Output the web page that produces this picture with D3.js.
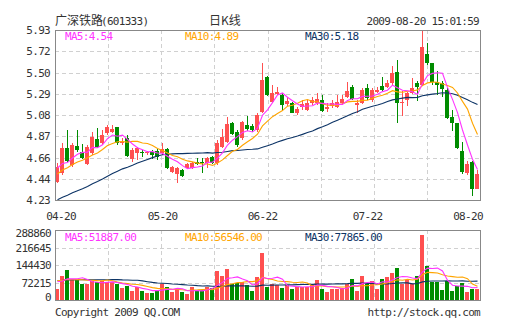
<!DOCTYPE html>
<html><head><meta charset="utf-8">
<script src="https://cdn.jsdelivr.net/npm/d3@7"></script>
<style>
body{margin:0;background:#fff}
text{font-family:"DejaVu Sans Mono",monospace;font-size:11px;letter-spacing:-0.7px}
.cjk{font-family:"Noto Sans CJK SC",sans-serif;font-size:12px;letter-spacing:0}
</style>
</head><body><svg id="c" width="505" height="330"></svg>
<script>
const stockName = "广深铁路";
const stockCode = "(601333)";
const periodLabel = "日K线";
const stampLabel = "2009-08-20 15:01:59";
const copyrightLabel = "Copyright 2009 QQ.COM";
const urlLabel = "http://stock.qq.com";
const priceTickLabels = ["4.23","4.44","4.66","4.87","5.08","5.29","5.50","5.72","5.93"];
const priceMin = 4.23, priceMax = 5.93;
const volTickLabels = ["0","72215","144430","216645","288860"];
const volMax = 288860;
const dateLabels = ["04-20","05-20","06-22","07-22","08-20"];
const dateLabelIndex = [0, 21, 41, 62, 84];

const open  = [4.41,4.50,4.75,4.58,4.77,4.71,4.59,4.70,4.84,4.80,4.90,4.91,4.96,4.80,4.85,4.64,4.70,4.71,4.70,4.71,4.72,4.70,4.74,4.51,4.49,4.53,4.55,4.55,4.61,4.61,4.60,4.66,4.60,4.76,4.81,5.00,4.91,4.85,4.98,4.97,4.93,5.11,5.46,5.21,5.29,5.28,5.19,5.20,5.10,5.16,5.13,5.20,5.20,5.23,5.14,5.17,5.16,5.20,5.26,5.36,5.18,5.20,5.35,5.23,5.31,5.37,5.36,5.40,5.51,5.20,5.23,5.30,5.40,5.38,5.69,5.60,5.41,5.40,5.33,5.06,5.00,4.72,4.50,4.61,4.34];
const close = [4.56,4.75,4.62,4.78,4.73,4.65,4.76,4.86,4.76,4.88,4.96,4.94,4.80,4.81,4.67,4.73,4.75,4.70,4.71,4.68,4.66,4.74,4.55,4.56,4.55,4.47,4.59,4.60,4.59,4.60,4.65,4.60,4.80,4.86,4.99,4.89,4.78,5.01,4.94,4.93,5.08,5.43,5.28,5.30,5.31,5.18,5.22,5.10,5.14,5.19,5.20,5.23,5.24,5.12,5.16,5.20,5.21,5.24,5.32,5.24,5.20,5.33,5.25,5.33,5.33,5.33,5.40,5.50,5.20,5.21,5.30,5.35,5.36,5.76,5.60,5.41,5.38,5.34,5.05,5.00,4.75,4.51,4.59,4.34,4.49];
const high  = [4.60,4.80,4.93,4.80,4.93,4.79,4.78,4.91,4.95,4.93,4.98,4.98,4.96,4.85,4.88,4.75,4.76,4.73,4.72,4.73,4.74,4.80,4.75,4.57,4.56,4.54,4.60,4.61,4.65,4.65,4.66,4.67,4.83,4.94,5.06,5.01,4.93,5.02,5.07,4.99,5.10,5.60,5.47,5.38,5.36,5.30,5.26,5.21,5.16,5.23,5.23,5.26,5.30,5.28,5.20,5.23,5.28,5.28,5.41,5.38,5.23,5.35,5.39,5.35,5.36,5.46,5.43,5.57,5.63,5.32,5.31,5.45,5.42,5.93,5.80,5.60,5.52,5.42,5.35,5.13,5.00,4.81,4.62,4.62,4.53];
const low   = [4.40,4.48,4.61,4.56,4.71,4.64,4.58,4.68,4.75,4.78,4.88,4.90,4.78,4.78,4.66,4.61,4.63,4.66,4.68,4.64,4.63,4.68,4.54,4.50,4.40,4.46,4.54,4.54,4.58,4.50,4.55,4.59,4.58,4.75,4.80,4.88,4.76,4.83,4.92,4.91,4.91,5.10,5.27,5.20,5.28,5.13,5.17,5.10,5.08,5.13,5.12,5.18,5.18,5.11,5.11,5.15,5.15,5.18,5.25,5.23,5.10,5.19,5.23,5.21,5.30,5.32,5.35,5.38,5.00,5.07,5.17,5.29,5.22,5.37,5.58,5.38,5.28,5.26,5.04,4.92,4.74,4.49,4.48,4.27,4.34];
const volume = [47000,100000,123000,85000,85000,65000,65000,77000,73000,77000,73000,73000,66000,49000,58000,39000,55000,39000,30000,30000,39000,66000,55000,32000,47000,32000,24000,55000,36000,42000,55000,51000,118000,97000,126000,66000,70000,73000,62000,39000,93000,196000,55000,66000,62000,50000,61000,47000,55000,55000,55000,62000,82000,47000,35000,47000,47000,51000,66000,88000,39000,97000,70000,77000,47000,85000,93000,110000,130000,66000,82000,66000,98000,270000,141490,75000,74000,40000,78000,39025,58000,72000,35000,47435,47000];
// sessions before the window, needed only for the moving averages
const priorClose = [4.02,4.05,4.03,4.08,4.10,4.06,4.04,4.09,4.12,4.15,4.11,4.08,4.13,4.16,4.14,4.12,4.17,4.15,4.13,4.17,4.35,4.40,4.45,4.47,4.48,4.52,4.58,4.55,4.54];
const priorVolume = [72000,65000,80000,68000,75000,62000,70000,78000,66000,73000,69000,64000,77000,71000,68000,62000,115000,130000,120000,115000,90000,85000,95000,80000,75000,82000,78000,88000,80000];
const maPeriods = [5, 10, 30];

const RED = "#ff5050", GREEN = "#008c00";
const maColors = ["#ff33ff", "#ffa500", "#0d3466"];

const svg = d3.select("#c");
const L = 55, R = 480, PT = 30, PB = 200, VT = 230, VB = 300;
const n = close.length;
const x = d3.scaleBand().domain(d3.range(n)).range([L, R]);
const y = d3.scaleLinear().domain([priceMin, priceMax]).range([PB, PT]);
const yv = d3.scaleLinear().domain([0, volMax]).range([VB, VT]);

function movingAvg(prior, series, k) {
  const all = prior.concat(series), P = prior.length;
  return series.map((_, i) => d3.mean(all.slice(P + i - k + 1, P + i + 1)));
}
const priceMA = maPeriods.map(k => movingAvg(priorClose, close, k));
const volMA = maPeriods.map(k => movingAvg(priorVolume, volume, k));

const defs = svg.append("defs");
defs.append("clipPath").attr("id","cp").append("rect").attr("x",L).attr("y",PT).attr("width",R-L).attr("height",PB-PT+1);
defs.append("clipPath").attr("id","cv").append("rect").attr("x",L).attr("y",VT).attr("width",R-L).attr("height",VB-VT+1);

// grids
const vx = d3.range(1, 8).map(k => Math.round(L + k * (R - L) / 8) + 0.5);
function grid(top, bottom, ys) {
  const g = svg.append("g").attr("stroke","#d0d0d0").attr("stroke-dasharray","4,3").attr("shape-rendering","crispEdges");
  ys.forEach(v => g.append("line").attr("x1",L).attr("x2",R).attr("y1",v).attr("y2",v));
  vx.forEach(v => g.append("line").attr("x1",v).attr("x2",v).attr("y1",top).attr("y2",bottom));
}
const pStep = (priceMax - priceMin) / (priceTickLabels.length - 1);
grid(PT, PB, d3.range(1, priceTickLabels.length - 1).map(k => Math.round(y(priceMin + k * pStep)) + 0.5));
const vStep = volMax / (volTickLabels.length - 1);
grid(VT, VB, d3.range(1, volTickLabels.length - 1).map(k => Math.round(yv(k * vStep)) + 0.5));

// candles
const cg = svg.append("g").attr("clip-path","url(#cp)").attr("shape-rendering","crispEdges");
d3.range(n).forEach(i => {
  const col = close[i] >= open[i] ? RED : GREEN;
  const cx = x(i) + 2.5;
  cg.append("line").attr("x1",cx).attr("x2",cx).attr("y1",y(high[i])).attr("y2",y(low[i])).attr("stroke",col);
  const t = Math.min(y(open[i]), y(close[i])), b = Math.max(y(open[i]), y(close[i]));
  cg.append("rect").attr("x",x(i)).attr("y",t).attr("width",4).attr("height",Math.max(1,b-t)).attr("fill",col);
});
// volume bars
const vg = svg.append("g").attr("clip-path","url(#cv)").attr("shape-rendering","crispEdges");
d3.range(n).forEach(i => {
  const col = close[i] >= open[i] ? RED : GREEN;
  vg.append("rect").attr("x",x(i)).attr("y",yv(volume[i])).attr("width",4).attr("height",VB - yv(volume[i]) + 0.5).attr("fill",col);
});
// MA lines
const lineP = d3.line().x((d,i) => x(i) + 2.5).y(d => y(d));
const lineV = d3.line().x((d,i) => x(i) + 2.5).y(d => yv(d));
[2,1,0].forEach(k => {
  svg.append("path").attr("clip-path","url(#cp)").attr("d", lineP(priceMA[k])).attr("fill","none").attr("stroke",maColors[k]).attr("stroke-width",1.1);
  svg.append("path").attr("clip-path","url(#cv)").attr("d", lineV(volMA[k])).attr("fill","none").attr("stroke",maColors[k]).attr("stroke-width",1.1);
});

// borders
svg.append("rect").attr("x",L+0.5).attr("y",PT+0.5).attr("width",R-L).attr("height",PB-PT).attr("fill","none").attr("stroke","#888");
svg.append("rect").attr("x",L+0.5).attr("y",VT+0.5).attr("width",R-L).attr("height",VB-VT).attr("fill","none").attr("stroke","#888");

// axis labels
const txt = "#333";
priceTickLabels.forEach((s,k) => {
  svg.append("text").attr("x",50).attr("y",y(priceMin + k*pStep)+4).attr("text-anchor","end").attr("fill",txt).text(s);
});
volTickLabels.forEach((s,k) => {
  let yy = yv(k*vStep) + 4;
  if (k === 0) yy -= 3;
  if (k === volTickLabels.length - 1) yy += 3;
  svg.append("text").attr("x",51).attr("y",yy).attr("text-anchor","end").attr("fill",txt).text(s);
});
dateLabels.forEach((s,k) => {
  const cx = Math.max(61, Math.min(468, x(dateLabelIndex[k]) + 2.5));
  svg.append("text").attr("x",cx).attr("y",220).attr("text-anchor","middle").attr("fill",txt).text(s);
});

// header
svg.append("text").attr("class","cjk").attr("x",55).attr("y",25).attr("fill",txt).text(stockName);
svg.append("text").attr("x",101).attr("y",25).attr("fill",txt).text(stockCode);
svg.append("text").attr("class","cjk").attr("x",225).attr("y",25).attr("text-anchor","middle").attr("fill",txt).text(periodLabel);
svg.append("text").attr("x",479).attr("y",25).attr("text-anchor","end").attr("fill",txt).text(stampLabel);

const maX = [65, 185, 305];
maPeriods.forEach((p,k) => {
  svg.append("text").attr("x",maX[k]).attr("y",40).attr("fill",maColors[k]).text("MA"+p+":"+priceMA[k][n-1].toFixed(2));
  svg.append("text").attr("x",maX[k]).attr("y",240.5).attr("fill",maColors[k]).text("MA"+p+":"+volMA[k][n-1].toFixed(2));
});

svg.append("text").attr("x",55).attr("y",316).attr("fill",txt).text(copyrightLabel);
svg.append("text").attr("x",480).attr("y",316).attr("text-anchor","end").attr("fill",txt).text(urlLabel);
</script>
</body></html>
